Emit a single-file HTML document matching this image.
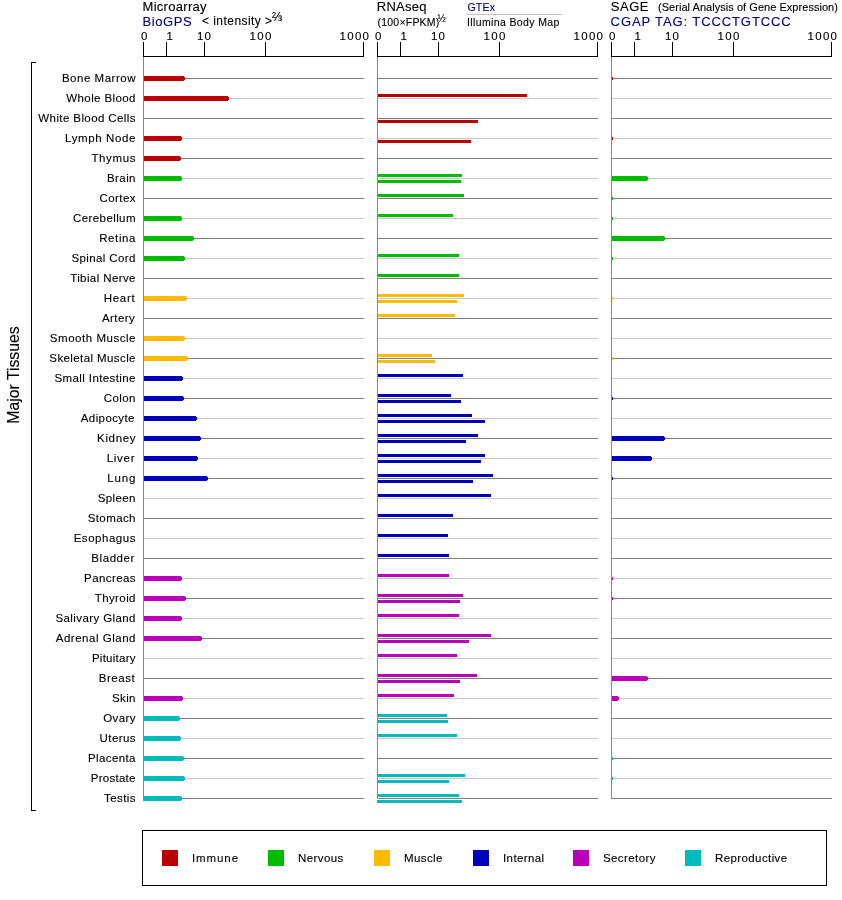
<!DOCTYPE html>
<html><head><meta charset="utf-8"><title>Expression in Major Tissues</title>
<style>
html,body{margin:0;padding:0;background:#fff;}
body{width:842px;height:900px;position:relative;overflow:hidden;font-family:"Liberation Sans",Arial,sans-serif;color:#000;}
#c{position:absolute;left:0;top:0;width:842px;height:900px;}
#c div,#c span{position:absolute;}
.t{white-space:nowrap;line-height:1;-webkit-text-stroke:0.12px currentColor;}
.lab{right:706.5px;font-size:11.5px;text-align:right;letter-spacing:0.4px;margin-right:-0.4px;}
.tk{font-size:11.5px;letter-spacing:1.3px;top:31px;}
.b{height:5px;}
.n{width:1px;height:3px;}
.s{height:3px;}
.d{width:1px;height:3px;}
.lg{width:16px;height:16px;top:850px;}
.lt{font-size:11.5px;top:853px;letter-spacing:0.4px;}
.bl{color:#000078;-webkit-text-stroke:0.12px #000078;}
</style></head><body><div id="c">
<div style="left:31px;top:62px;width:1px;height:749px;background:#000"></div>
<div style="left:31px;top:62px;width:5px;height:1px;background:#000"></div>
<div style="left:31px;top:810px;width:5px;height:1px;background:#000"></div>
<span class="t" style="left:14px;top:375px;font-size:15.8px;transform:translate(-50%,-50%) rotate(-90deg);transform-origin:center;">Major Tissues</span>
<div style="left:143px;top:56px;width:221px;height:1px;background:#000"></div>
<div style="left:143px;top:42px;width:1px;height:14px;background:#000"></div>
<div style="left:166px;top:42px;width:1px;height:14px;background:#000"></div>
<div style="left:204px;top:42px;width:1px;height:14px;background:#000"></div>
<div style="left:265px;top:42px;width:1px;height:14px;background:#000"></div>
<div style="left:363px;top:42px;width:1px;height:14px;background:#000"></div>
<div style="left:143px;top:57px;width:1px;height:742px;background:#888888"></div>
<div style="left:144px;top:78px;width:220px;height:1px;background:#808080"></div>
<div style="left:144px;top:98px;width:220px;height:1px;background:#c8c8c8"></div>
<div style="left:144px;top:118px;width:220px;height:1px;background:#808080"></div>
<div style="left:144px;top:138px;width:220px;height:1px;background:#c8c8c8"></div>
<div style="left:144px;top:158px;width:220px;height:1px;background:#808080"></div>
<div style="left:144px;top:178px;width:220px;height:1px;background:#c8c8c8"></div>
<div style="left:144px;top:198px;width:220px;height:1px;background:#808080"></div>
<div style="left:144px;top:218px;width:220px;height:1px;background:#c8c8c8"></div>
<div style="left:144px;top:238px;width:220px;height:1px;background:#808080"></div>
<div style="left:144px;top:258px;width:220px;height:1px;background:#c8c8c8"></div>
<div style="left:144px;top:278px;width:220px;height:1px;background:#808080"></div>
<div style="left:144px;top:298px;width:220px;height:1px;background:#c8c8c8"></div>
<div style="left:144px;top:318px;width:220px;height:1px;background:#808080"></div>
<div style="left:144px;top:338px;width:220px;height:1px;background:#c8c8c8"></div>
<div style="left:144px;top:358px;width:220px;height:1px;background:#808080"></div>
<div style="left:144px;top:378px;width:220px;height:1px;background:#c8c8c8"></div>
<div style="left:144px;top:398px;width:220px;height:1px;background:#808080"></div>
<div style="left:144px;top:418px;width:220px;height:1px;background:#c8c8c8"></div>
<div style="left:144px;top:438px;width:220px;height:1px;background:#808080"></div>
<div style="left:144px;top:458px;width:220px;height:1px;background:#c8c8c8"></div>
<div style="left:144px;top:478px;width:220px;height:1px;background:#808080"></div>
<div style="left:144px;top:498px;width:220px;height:1px;background:#c8c8c8"></div>
<div style="left:144px;top:518px;width:220px;height:1px;background:#808080"></div>
<div style="left:144px;top:538px;width:220px;height:1px;background:#c8c8c8"></div>
<div style="left:144px;top:558px;width:220px;height:1px;background:#808080"></div>
<div style="left:144px;top:578px;width:220px;height:1px;background:#c8c8c8"></div>
<div style="left:144px;top:598px;width:220px;height:1px;background:#808080"></div>
<div style="left:144px;top:618px;width:220px;height:1px;background:#c8c8c8"></div>
<div style="left:144px;top:638px;width:220px;height:1px;background:#808080"></div>
<div style="left:144px;top:658px;width:220px;height:1px;background:#c8c8c8"></div>
<div style="left:144px;top:678px;width:220px;height:1px;background:#808080"></div>
<div style="left:144px;top:698px;width:220px;height:1px;background:#c8c8c8"></div>
<div style="left:144px;top:718px;width:220px;height:1px;background:#808080"></div>
<div style="left:144px;top:738px;width:220px;height:1px;background:#c8c8c8"></div>
<div style="left:144px;top:758px;width:220px;height:1px;background:#808080"></div>
<div style="left:144px;top:778px;width:220px;height:1px;background:#c8c8c8"></div>
<div style="left:144px;top:798px;width:220px;height:1px;background:#808080"></div>
<div style="left:377px;top:56px;width:221px;height:1px;background:#000"></div>
<div style="left:377px;top:42px;width:1px;height:14px;background:#000"></div>
<div style="left:400px;top:42px;width:1px;height:14px;background:#000"></div>
<div style="left:438px;top:42px;width:1px;height:14px;background:#000"></div>
<div style="left:499px;top:42px;width:1px;height:14px;background:#000"></div>
<div style="left:597px;top:42px;width:1px;height:14px;background:#000"></div>
<div style="left:377px;top:57px;width:1px;height:742px;background:#888888"></div>
<div style="left:378px;top:78px;width:220px;height:1px;background:#808080"></div>
<div style="left:378px;top:98px;width:220px;height:1px;background:#c8c8c8"></div>
<div style="left:378px;top:118px;width:220px;height:1px;background:#808080"></div>
<div style="left:378px;top:138px;width:220px;height:1px;background:#c8c8c8"></div>
<div style="left:378px;top:158px;width:220px;height:1px;background:#808080"></div>
<div style="left:378px;top:178px;width:220px;height:1px;background:#c8c8c8"></div>
<div style="left:378px;top:198px;width:220px;height:1px;background:#808080"></div>
<div style="left:378px;top:218px;width:220px;height:1px;background:#c8c8c8"></div>
<div style="left:378px;top:238px;width:220px;height:1px;background:#808080"></div>
<div style="left:378px;top:258px;width:220px;height:1px;background:#c8c8c8"></div>
<div style="left:378px;top:278px;width:220px;height:1px;background:#808080"></div>
<div style="left:378px;top:298px;width:220px;height:1px;background:#c8c8c8"></div>
<div style="left:378px;top:318px;width:220px;height:1px;background:#808080"></div>
<div style="left:378px;top:338px;width:220px;height:1px;background:#c8c8c8"></div>
<div style="left:378px;top:358px;width:220px;height:1px;background:#808080"></div>
<div style="left:378px;top:378px;width:220px;height:1px;background:#c8c8c8"></div>
<div style="left:378px;top:398px;width:220px;height:1px;background:#808080"></div>
<div style="left:378px;top:418px;width:220px;height:1px;background:#c8c8c8"></div>
<div style="left:378px;top:438px;width:220px;height:1px;background:#808080"></div>
<div style="left:378px;top:458px;width:220px;height:1px;background:#c8c8c8"></div>
<div style="left:378px;top:478px;width:220px;height:1px;background:#808080"></div>
<div style="left:378px;top:498px;width:220px;height:1px;background:#c8c8c8"></div>
<div style="left:378px;top:518px;width:220px;height:1px;background:#808080"></div>
<div style="left:378px;top:538px;width:220px;height:1px;background:#c8c8c8"></div>
<div style="left:378px;top:558px;width:220px;height:1px;background:#808080"></div>
<div style="left:378px;top:578px;width:220px;height:1px;background:#c8c8c8"></div>
<div style="left:378px;top:598px;width:220px;height:1px;background:#808080"></div>
<div style="left:378px;top:618px;width:220px;height:1px;background:#c8c8c8"></div>
<div style="left:378px;top:638px;width:220px;height:1px;background:#808080"></div>
<div style="left:378px;top:658px;width:220px;height:1px;background:#c8c8c8"></div>
<div style="left:378px;top:678px;width:220px;height:1px;background:#808080"></div>
<div style="left:378px;top:698px;width:220px;height:1px;background:#c8c8c8"></div>
<div style="left:378px;top:718px;width:220px;height:1px;background:#808080"></div>
<div style="left:378px;top:738px;width:220px;height:1px;background:#c8c8c8"></div>
<div style="left:378px;top:758px;width:220px;height:1px;background:#808080"></div>
<div style="left:378px;top:778px;width:220px;height:1px;background:#c8c8c8"></div>
<div style="left:378px;top:798px;width:220px;height:1px;background:#808080"></div>
<div style="left:611px;top:56px;width:221px;height:1px;background:#000"></div>
<div style="left:611px;top:42px;width:1px;height:14px;background:#000"></div>
<div style="left:634px;top:42px;width:1px;height:14px;background:#000"></div>
<div style="left:672px;top:42px;width:1px;height:14px;background:#000"></div>
<div style="left:733px;top:42px;width:1px;height:14px;background:#000"></div>
<div style="left:831px;top:42px;width:1px;height:14px;background:#000"></div>
<div style="left:611px;top:57px;width:1px;height:742px;background:#888888"></div>
<div style="left:612px;top:78px;width:220px;height:1px;background:#808080"></div>
<div style="left:612px;top:98px;width:220px;height:1px;background:#c8c8c8"></div>
<div style="left:612px;top:118px;width:220px;height:1px;background:#808080"></div>
<div style="left:612px;top:138px;width:220px;height:1px;background:#c8c8c8"></div>
<div style="left:612px;top:158px;width:220px;height:1px;background:#808080"></div>
<div style="left:612px;top:178px;width:220px;height:1px;background:#c8c8c8"></div>
<div style="left:612px;top:198px;width:220px;height:1px;background:#808080"></div>
<div style="left:612px;top:218px;width:220px;height:1px;background:#c8c8c8"></div>
<div style="left:612px;top:238px;width:220px;height:1px;background:#808080"></div>
<div style="left:612px;top:258px;width:220px;height:1px;background:#c8c8c8"></div>
<div style="left:612px;top:278px;width:220px;height:1px;background:#808080"></div>
<div style="left:612px;top:298px;width:220px;height:1px;background:#c8c8c8"></div>
<div style="left:612px;top:318px;width:220px;height:1px;background:#808080"></div>
<div style="left:612px;top:338px;width:220px;height:1px;background:#c8c8c8"></div>
<div style="left:612px;top:358px;width:220px;height:1px;background:#808080"></div>
<div style="left:612px;top:378px;width:220px;height:1px;background:#c8c8c8"></div>
<div style="left:612px;top:398px;width:220px;height:1px;background:#808080"></div>
<div style="left:612px;top:418px;width:220px;height:1px;background:#c8c8c8"></div>
<div style="left:612px;top:438px;width:220px;height:1px;background:#808080"></div>
<div style="left:612px;top:458px;width:220px;height:1px;background:#c8c8c8"></div>
<div style="left:612px;top:478px;width:220px;height:1px;background:#808080"></div>
<div style="left:612px;top:498px;width:220px;height:1px;background:#c8c8c8"></div>
<div style="left:612px;top:518px;width:220px;height:1px;background:#808080"></div>
<div style="left:612px;top:538px;width:220px;height:1px;background:#c8c8c8"></div>
<div style="left:612px;top:558px;width:220px;height:1px;background:#808080"></div>
<div style="left:612px;top:578px;width:220px;height:1px;background:#c8c8c8"></div>
<div style="left:612px;top:598px;width:220px;height:1px;background:#808080"></div>
<div style="left:612px;top:618px;width:220px;height:1px;background:#c8c8c8"></div>
<div style="left:612px;top:638px;width:220px;height:1px;background:#808080"></div>
<div style="left:612px;top:658px;width:220px;height:1px;background:#c8c8c8"></div>
<div style="left:612px;top:678px;width:220px;height:1px;background:#808080"></div>
<div style="left:612px;top:698px;width:220px;height:1px;background:#c8c8c8"></div>
<div style="left:612px;top:718px;width:220px;height:1px;background:#808080"></div>
<div style="left:612px;top:738px;width:220px;height:1px;background:#c8c8c8"></div>
<div style="left:612px;top:758px;width:220px;height:1px;background:#808080"></div>
<div style="left:612px;top:778px;width:220px;height:1px;background:#c8c8c8"></div>
<div style="left:612px;top:798px;width:220px;height:1px;background:#808080"></div>
<span class="t tk" style="left:141px">0</span>
<span class="t tk" style="left:166.6px">1</span>
<span class="t tk" style="left:196.9px">10</span>
<span class="t tk" style="left:249.6px">100</span>
<span class="t tk" style="left:339.5px">1000</span>
<span class="t tk" style="left:375px">0</span>
<span class="t tk" style="left:400.6px">1</span>
<span class="t tk" style="left:430.9px">10</span>
<span class="t tk" style="left:483.6px">100</span>
<span class="t tk" style="left:573.5px">1000</span>
<span class="t tk" style="left:609px">0</span>
<span class="t tk" style="left:634.6px">1</span>
<span class="t tk" style="left:664.9px">10</span>
<span class="t tk" style="left:717.6px">100</span>
<span class="t tk" style="left:807.5px">1000</span>
<span class="t " style="left:142.5px;top:0px;font-size:13px;letter-spacing:0.3px">Microarray</span>
<span class="t bl" style="left:142.5px;top:15px;font-size:13px;letter-spacing:0.6px">BioGPS</span>
<span class="t " style="left:202px;top:15px;font-size:12px;letter-spacing:0.45px">&lt; intensity &gt;</span>
<span class="t " style="left:272px;top:11px;font-size:12px">&#8532;</span>
<span class="t " style="left:376.7px;top:0px;font-size:13px;letter-spacing:0.3px">RNAseq</span>
<span class="t " style="left:377.5px;top:17px;font-size:10.5px;letter-spacing:0.22px">(100&times;FPKM)</span>
<span class="t " style="left:437.5px;top:14px;font-size:10px">&frac12;</span>
<span class="t bl" style="left:467.5px;top:2px;font-size:10.5px;letter-spacing:0.2px">GTEx</span>
<div style="left:467px;top:14px;width:95px;height:1px;background:#c0c0c0"></div>
<span class="t " style="left:467px;top:17px;font-size:10.5px;letter-spacing:0.37px">Illumina Body Map</span>
<span class="t " style="left:610.8px;top:0px;font-size:13px;letter-spacing:0.5px">SAGE</span>
<span class="t " style="left:658px;top:2px;font-size:11px;letter-spacing:0.04px">(Serial Analysis of Gene Expression)</span>
<span class="t bl" style="left:610.6px;top:15px;font-size:13px;letter-spacing:0.9px">CGAP TAG: TCCCTGTCCC</span>
<span class="t lab" style="top:73px;letter-spacing:0.52px;margin-right:-0.52px">Bone Marrow</span>
<div class="b" style="left:144px;top:76px;width:40px;background:#bb0000"></div><div class="n" style="left:184px;top:77px;background:#bb0000"></div>
<div class="d" style="left:612px;top:77px;background:#bb0000"></div>
<span class="t lab" style="top:93px">Whole Blood</span>
<div class="b" style="left:144px;top:96px;width:84px;background:#bb0000"></div><div class="n" style="left:228px;top:97px;background:#bb0000"></div>
<div class="s" style="left:378px;top:94px;width:149px;background:#bb0000"></div>
<span class="t lab" style="top:113px">White Blood Cells</span>
<div class="s" style="left:378px;top:120px;width:100px;background:#bb0000"></div>
<span class="t lab" style="top:133px;letter-spacing:0.63px;margin-right:-0.63px">Lymph Node</span>
<div class="b" style="left:144px;top:136px;width:37px;background:#bb0000"></div><div class="n" style="left:181px;top:137px;background:#bb0000"></div>
<div class="s" style="left:378px;top:140px;width:93px;background:#bb0000"></div>
<div class="d" style="left:612px;top:137px;background:#bb0000"></div>
<span class="t lab" style="top:153px;letter-spacing:0.64px;margin-right:-0.64px">Thymus</span>
<div class="b" style="left:144px;top:156px;width:36px;background:#bb0000"></div><div class="n" style="left:180px;top:157px;background:#bb0000"></div>
<span class="t lab" style="top:173px">Brain</span>
<div class="b" style="left:144px;top:176px;width:37px;background:#00bb00"></div><div class="n" style="left:181px;top:177px;background:#00bb00"></div>
<div class="s" style="left:378px;top:174px;width:84px;background:#00bb00"></div>
<div class="s" style="left:378px;top:180px;width:83px;background:#00bb00"></div>
<div class="b" style="left:612px;top:176px;width:35px;background:#00bb00"></div><div class="n" style="left:647px;top:177px;background:#00bb00"></div>
<span class="t lab" style="top:193px">Cortex</span>
<div class="s" style="left:378px;top:194px;width:86px;background:#00bb00"></div>
<div class="d" style="left:612px;top:197px;background:#00bb00"></div>
<span class="t lab" style="top:213px">Cerebellum</span>
<div class="b" style="left:144px;top:216px;width:37px;background:#00bb00"></div><div class="n" style="left:181px;top:217px;background:#00bb00"></div>
<div class="s" style="left:378px;top:214px;width:75px;background:#00bb00"></div>
<div class="d" style="left:612px;top:217px;background:#00bb00"></div>
<span class="t lab" style="top:233px;letter-spacing:0.62px;margin-right:-0.62px">Retina</span>
<div class="b" style="left:144px;top:236px;width:49px;background:#00bb00"></div><div class="n" style="left:193px;top:237px;background:#00bb00"></div>
<div class="b" style="left:612px;top:236px;width:52px;background:#00bb00"></div><div class="n" style="left:664px;top:237px;background:#00bb00"></div>
<span class="t lab" style="top:253px">Spinal Cord</span>
<div class="b" style="left:144px;top:256px;width:40px;background:#00bb00"></div><div class="n" style="left:184px;top:257px;background:#00bb00"></div>
<div class="s" style="left:378px;top:254px;width:81px;background:#00bb00"></div>
<div class="d" style="left:612px;top:257px;background:#00bb00"></div>
<span class="t lab" style="top:273px">Tibial Nerve</span>
<div class="s" style="left:378px;top:274px;width:81px;background:#00bb00"></div>
<span class="t lab" style="top:293px;letter-spacing:0.70px;margin-right:-0.70px;right:707.3px">Heart</span>
<div class="b" style="left:144px;top:296px;width:42px;background:#ffbb00"></div><div class="n" style="left:186px;top:297px;background:#ffbb00"></div>
<div class="s" style="left:378px;top:294px;width:86px;background:#ffbb00"></div>
<div class="s" style="left:378px;top:300px;width:79px;background:#ffbb00"></div>
<div class="d" style="left:612px;top:297px;background:#ffbb00"></div>
<span class="t lab" style="top:313px;right:707.3px">Artery</span>
<div class="s" style="left:378px;top:314px;width:77px;background:#ffbb00"></div>
<span class="t lab" style="top:333px;letter-spacing:0.53px;margin-right:-0.53px">Smooth Muscle</span>
<div class="b" style="left:144px;top:336px;width:40px;background:#ffbb00"></div><div class="n" style="left:184px;top:337px;background:#ffbb00"></div>
<span class="t lab" style="top:353px">Skeletal Muscle</span>
<div class="b" style="left:144px;top:356px;width:43px;background:#ffbb00"></div><div class="n" style="left:187px;top:357px;background:#ffbb00"></div>
<div class="s" style="left:378px;top:354px;width:54px;background:#ffbb00"></div>
<div class="s" style="left:378px;top:360px;width:57px;background:#ffbb00"></div>
<div class="d" style="left:612px;top:357px;background:#ffbb00"></div>
<span class="t lab" style="top:373px">Small Intestine</span>
<div class="b" style="left:144px;top:376px;width:38px;background:#0000bb"></div><div class="n" style="left:182px;top:377px;background:#0000bb"></div>
<div class="s" style="left:378px;top:374px;width:85px;background:#0000bb"></div>
<span class="t lab" style="top:393px">Colon</span>
<div class="b" style="left:144px;top:396px;width:39px;background:#0000bb"></div><div class="n" style="left:183px;top:397px;background:#0000bb"></div>
<div class="s" style="left:378px;top:394px;width:73px;background:#0000bb"></div>
<div class="s" style="left:378px;top:400px;width:83px;background:#0000bb"></div>
<div class="d" style="left:612px;top:397px;background:#0000bb"></div>
<span class="t lab" style="top:413px;right:707.5px">Adipocyte</span>
<div class="b" style="left:144px;top:416px;width:52px;background:#0000bb"></div><div class="n" style="left:196px;top:417px;background:#0000bb"></div>
<div class="s" style="left:378px;top:414px;width:94px;background:#0000bb"></div>
<div class="s" style="left:378px;top:420px;width:107px;background:#0000bb"></div>
<span class="t lab" style="top:433px;letter-spacing:0.64px;margin-right:-0.64px">Kidney</span>
<div class="b" style="left:144px;top:436px;width:56px;background:#0000bb"></div><div class="n" style="left:200px;top:437px;background:#0000bb"></div>
<div class="s" style="left:378px;top:434px;width:100px;background:#0000bb"></div>
<div class="s" style="left:378px;top:440px;width:88px;background:#0000bb"></div>
<div class="b" style="left:612px;top:436px;width:52px;background:#0000bb"></div><div class="n" style="left:664px;top:437px;background:#0000bb"></div>
<span class="t lab" style="top:453px;letter-spacing:0.70px;margin-right:-0.70px;right:707.5px">Liver</span>
<div class="b" style="left:144px;top:456px;width:53px;background:#0000bb"></div><div class="n" style="left:197px;top:457px;background:#0000bb"></div>
<div class="s" style="left:378px;top:454px;width:107px;background:#0000bb"></div>
<div class="s" style="left:378px;top:460px;width:103px;background:#0000bb"></div>
<div class="b" style="left:612px;top:456px;width:39px;background:#0000bb"></div><div class="n" style="left:651px;top:457px;background:#0000bb"></div>
<span class="t lab" style="top:473px;letter-spacing:0.85px;margin-right:-0.85px">Lung</span>
<div class="b" style="left:144px;top:476px;width:63px;background:#0000bb"></div><div class="n" style="left:207px;top:477px;background:#0000bb"></div>
<div class="s" style="left:378px;top:474px;width:115px;background:#0000bb"></div>
<div class="s" style="left:378px;top:480px;width:95px;background:#0000bb"></div>
<div class="d" style="left:612px;top:477px;background:#0000bb"></div>
<span class="t lab" style="top:493px">Spleen</span>
<div class="s" style="left:378px;top:494px;width:113px;background:#0000bb"></div>
<span class="t lab" style="top:513px">Stomach</span>
<div class="s" style="left:378px;top:514px;width:75px;background:#0000bb"></div>
<span class="t lab" style="top:533px;letter-spacing:0.54px;margin-right:-0.54px">Esophagus</span>
<div class="s" style="left:378px;top:534px;width:70px;background:#0000bb"></div>
<span class="t lab" style="top:553px;letter-spacing:0.58px;margin-right:-0.58px;right:707.6px">Bladder</span>
<div class="s" style="left:378px;top:554px;width:71px;background:#0000bb"></div>
<span class="t lab" style="top:573px">Pancreas</span>
<div class="b" style="left:144px;top:576px;width:37px;background:#bb00bb"></div><div class="n" style="left:181px;top:577px;background:#bb00bb"></div>
<div class="s" style="left:378px;top:574px;width:71px;background:#bb00bb"></div>
<div class="d" style="left:612px;top:577px;background:#bb00bb"></div>
<span class="t lab" style="top:593px">Thyroid</span>
<div class="b" style="left:144px;top:596px;width:41px;background:#bb00bb"></div><div class="n" style="left:185px;top:597px;background:#bb00bb"></div>
<div class="s" style="left:378px;top:594px;width:85px;background:#bb00bb"></div>
<div class="s" style="left:378px;top:600px;width:82px;background:#bb00bb"></div>
<div class="d" style="left:612px;top:597px;background:#bb00bb"></div>
<span class="t lab" style="top:613px">Salivary Gland</span>
<div class="b" style="left:144px;top:616px;width:37px;background:#bb00bb"></div><div class="n" style="left:181px;top:617px;background:#bb00bb"></div>
<div class="s" style="left:378px;top:614px;width:81px;background:#bb00bb"></div>
<span class="t lab" style="top:633px;letter-spacing:0.52px;margin-right:-0.52px">Adrenal Gland</span>
<div class="b" style="left:144px;top:636px;width:57px;background:#bb00bb"></div><div class="n" style="left:201px;top:637px;background:#bb00bb"></div>
<div class="s" style="left:378px;top:634px;width:113px;background:#bb00bb"></div>
<div class="s" style="left:378px;top:640px;width:91px;background:#bb00bb"></div>
<span class="t lab" style="top:653px;letter-spacing:0.25px;margin-right:-0.25px">Pituitary</span>
<div class="s" style="left:378px;top:654px;width:79px;background:#bb00bb"></div>
<span class="t lab" style="top:673px;letter-spacing:0.56px;margin-right:-0.56px;right:707.2px">Breast</span>
<div class="s" style="left:378px;top:674px;width:99px;background:#bb00bb"></div>
<div class="s" style="left:378px;top:680px;width:82px;background:#bb00bb"></div>
<div class="b" style="left:612px;top:676px;width:35px;background:#bb00bb"></div><div class="n" style="left:647px;top:677px;background:#bb00bb"></div>
<span class="t lab" style="top:693px">Skin</span>
<div class="b" style="left:144px;top:696px;width:38px;background:#bb00bb"></div><div class="n" style="left:182px;top:697px;background:#bb00bb"></div>
<div class="s" style="left:378px;top:694px;width:76px;background:#bb00bb"></div>
<div class="b" style="left:612px;top:696px;width:6px;background:#bb00bb"></div><div class="n" style="left:618px;top:697px;background:#bb00bb"></div>
<span class="t lab" style="top:713px">Ovary</span>
<div class="b" style="left:144px;top:716px;width:35px;background:#00bbbb"></div><div class="n" style="left:179px;top:717px;background:#00bbbb"></div>
<div class="s" style="left:378px;top:714px;width:69px;background:#00bbbb"></div>
<div class="s" style="left:378px;top:720px;width:70px;background:#00bbbb"></div>
<span class="t lab" style="top:733px">Uterus</span>
<div class="b" style="left:144px;top:736px;width:36px;background:#00bbbb"></div><div class="n" style="left:180px;top:737px;background:#00bbbb"></div>
<div class="s" style="left:378px;top:734px;width:79px;background:#00bbbb"></div>
<span class="t lab" style="top:753px">Placenta</span>
<div class="b" style="left:144px;top:756px;width:39px;background:#00bbbb"></div><div class="n" style="left:183px;top:757px;background:#00bbbb"></div>
<div class="d" style="left:612px;top:757px;background:#00bbbb"></div>
<span class="t lab" style="top:773px;letter-spacing:0.28px;margin-right:-0.28px">Prostate</span>
<div class="b" style="left:144px;top:776px;width:40px;background:#00bbbb"></div><div class="n" style="left:184px;top:777px;background:#00bbbb"></div>
<div class="s" style="left:378px;top:774px;width:87px;background:#00bbbb"></div>
<div class="s" style="left:378px;top:780px;width:71px;background:#00bbbb"></div>
<div class="d" style="left:612px;top:777px;background:#00bbbb"></div>
<span class="t lab" style="top:793px">Testis</span>
<div class="b" style="left:143px;top:796px;width:38px;background:#00bbbb"></div><div class="n" style="left:181px;top:797px;background:#00bbbb"></div>
<div class="s" style="left:378px;top:794px;width:81px;background:#00bbbb"></div>
<div class="s" style="left:377px;top:800px;width:85px;background:#00bbbb"></div>
<div style="left:142px;top:830px;width:683px;height:54px;border:1px solid #000"></div>
<div class="lg" style="left:162px;background:#bb0000"></div><span class="t lt" style="left:192px;letter-spacing:0.9px">Immune</span>
<div class="lg" style="left:268px;background:#00bb00"></div><span class="t lt" style="left:298px">Nervous</span>
<div class="lg" style="left:374px;background:#ffbb00"></div><span class="t lt" style="left:404px">Muscle</span>
<div class="lg" style="left:473px;background:#0000bb"></div><span class="t lt" style="left:503px">Internal</span>
<div class="lg" style="left:573px;background:#bb00bb"></div><span class="t lt" style="left:603px">Secretory</span>
<div class="lg" style="left:685px;background:#00bbbb"></div><span class="t lt" style="left:715px">Reproductive</span>
</div></body></html>
